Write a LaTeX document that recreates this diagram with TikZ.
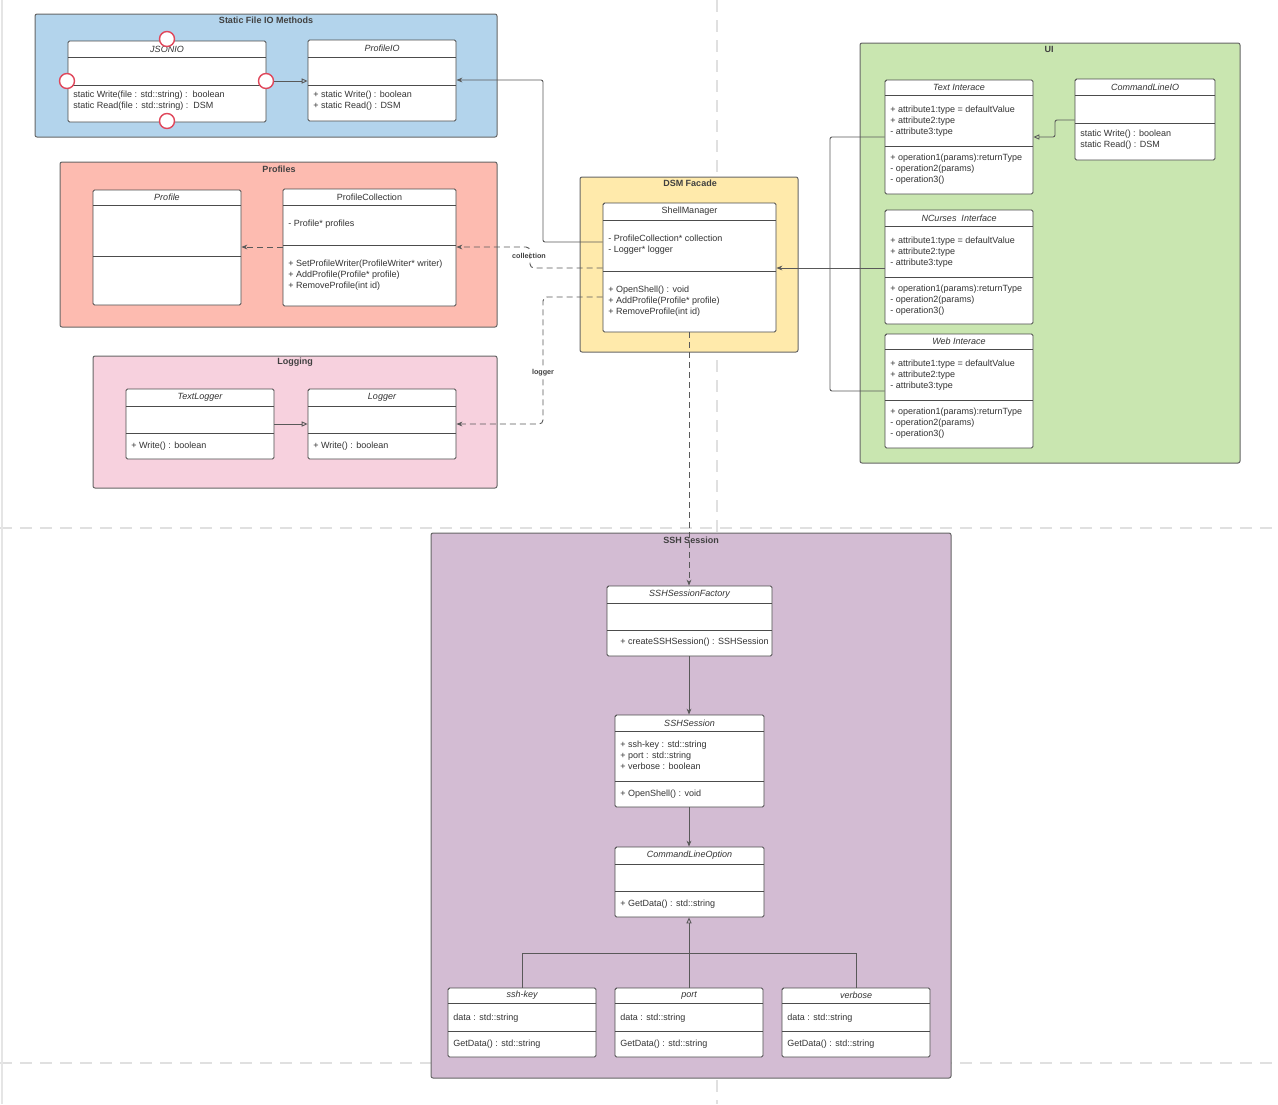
\documentclass[tikz,border=0pt]{standalone}
\usepackage{fontspec}
\setmainfont{Liberation Sans}
\usetikzlibrary{arrows.meta,fit}
\tikzset{
  txt/.style={font=\fontsize{4.5}{5.5}\selectfont,text=black!80,inner sep=0pt,align=left,anchor=north west},
  ttl/.style={font=\fontsize{4.5}{5.5}\selectfont,text=black!80,inner sep=0pt},
  ctitle/.style={font=\bfseries\fontsize{4.5}{5.5}\selectfont,text=black!75,inner sep=0pt},
  cont/.style={draw=black!60,line width=0.5pt,rounded corners=1pt},
  conn/.style={draw=black!65,line width=0.45pt},
  dconn/.style={conn,dash pattern=on 3pt off 2pt},
  fa/.style={-{Stealth[length=3pt,width=2.4pt]}},
  oa/.style={-{Triangle[open,length=3pt,width=2.6pt]}},
  bg/.style={draw=black!12,line width=1.3pt,dash pattern=on 6pt off 4pt},
}
\newcommand\cls[8]{%
  \draw[black!70,fill=white,line width=0.45pt,rounded corners=0.8pt] (#2,#3) rectangle (#4,#5);
  \draw[black!70,line width=0.45pt] (#2,#6) -- (#4,#6) (#2,#7) -- (#4,#7);
  \node[inner sep=0pt,fit={(#2,#3)(#4,#5)}] (#1) {};
  \node[ttl] at ({(#2+#4)/2},{(#3+#6)/2}) {#8};}
\newcommand\tl[3]{\node[txt] at (#1,#2) {#3};}
\begin{document}
\begin{tikzpicture}[x=0.5pt,y=-0.5pt]
\useasboundingbox (0,0) rectangle (1278,1104);
\fill[white] (0,0) rectangle (1278,1104);
% background guides
\draw[bg] (717,0) -- (717,1104);
\draw[bg] (0,528) -- (1278,528);
\draw[bg] (0,1063) -- (1278,1063);
\draw[black!10,line width=1pt] (2,0) -- (2,1104);
% containers
\draw[cont,fill={rgb,255:red,179;green,212;blue,236}] (35,14) rectangle (497,137);
\node[ctitle] at (266,20) {Static File IO Methods};
\draw[cont,fill={rgb,255:red,253;green,187;blue,176}] (60,162) rectangle (497,327);
\node[ctitle] at (279,169) {Profiles};
\draw[cont,fill={rgb,255:red,247;green,209;blue,222}] (93,356) rectangle (497,488);
\node[ctitle] at (295,362) {Logging};
\draw[cont,fill={rgb,255:red,255;green,234;blue,171}] (580,177) rectangle (798,352);
\node[ctitle] at (690,183) {DSM Facade};
\draw[cont,fill={rgb,255:red,201;green,230;blue,176}] (860,43) rectangle (1240,463);
\node[ctitle] at (1049,49) {UI};
\draw[cont,fill={rgb,255:red,211;green,188;blue,211}] (431,533) rectangle (951,1078);
\node[ctitle] at (691,540) {SSH Session};
% classes
\cls{jsonio}{68}{41}{266}{122}{57}{85}{\itshape JSONIO}
\tl{73}{91}{static Write(file : std::string) :\ \ boolean\\static Read(file : std::string) :\ \ DSM}
\cls{profileio}{308}{40}{456}{121}{57}{85}{\itshape ProfileIO}
\tl{313}{91}{+ static Write() : boolean\\+ static Read() : DSM}
\cls{profile}{93}{190}{241}{305}{205}{256}{\itshape Profile}
\cls{pcoll}{283}{189}{456}{306}{205}{245}{ProfileCollection}
\tl{288}{220}{- Profile* profiles}
\tl{288}{260}{+ SetProfileWriter(ProfileWriter* writer)\\+ AddProfile(Profile* profile)\\+ RemoveProfile(int id)}
\cls{textlogger}{126}{389}{274}{459}{406}{433}{\itshape TextLogger}
\tl{131}{442}{+ Write() : boolean}
\cls{logger}{308}{389}{456}{459}{406}{433}{\itshape Logger}
\tl{313}{442}{+ Write() : boolean}
\cls{shell}{603}{203}{776}{332}{220}{271}{ShellManager}
\tl{608}{235}{- ProfileCollection* collection\\- Logger* logger}
\tl{608}{286}{+ OpenShell() : void\\+ AddProfile(Profile* profile)\\+ RemoveProfile(int id)}
\cls{textui}{885}{80}{1033}{194}{95}{146}{\itshape Text Interace}
\tl{890}{106}{+ attribute1:type = defaultValue\\+ attribute2:type\\- attribute3:type}
\tl{890}{154}{+ operation1(params):returnType\\- operation2(params)\\- operation3()}
\cls{cli}{1075}{79}{1215}{160}{95}{123}{\itshape CommandLineIO}
\tl{1080}{130}{static Write() : boolean\\static Read() : DSM}
\cls{ncurses}{885}{210}{1033}{324}{226}{277}{\itshape NCurses\ \ Interface}
\tl{890}{237}{+ attribute1:type = defaultValue\\+ attribute2:type\\- attribute3:type}
\tl{890}{285}{+ operation1(params):returnType\\- operation2(params)\\- operation3()}
\cls{webui}{885}{334}{1033}{448}{349}{400}{\itshape Web Interace}
\tl{890}{360}{+ attribute1:type = defaultValue\\+ attribute2:type\\- attribute3:type}
\tl{890}{408}{+ operation1(params):returnType\\- operation2(params)\\- operation3()}
\cls{factory}{607}{586}{772}{656}{603}{630}{\itshape SSHSessionFactory}
\tl{620}{638}{+ createSSHSession() : SSHSession}
\cls{session}{615}{715}{764}{807}{731}{781}{\itshape SSHSession}
\tl{620}{741}{+ ssh-key : std::string\\+ port : std::string\\+ verbose : boolean}
\tl{620}{790}{+ OpenShell() : void}
\cls{clo}{615}{847}{764}{917}{864}{891}{\itshape CommandLineOption}
\tl{620}{900}{+ GetData() : std::string}
\cls{sshkey}{448}{988}{596}{1057}{1003}{1031}{\itshape ssh-key}
\tl{453}{1014}{data : std::string}
\tl{453}{1040}{GetData() : std::string}
\cls{port}{615}{988}{763}{1057}{1003}{1031}{\itshape port}
\tl{620}{1014}{data : std::string}
\tl{620}{1040}{GetData() : std::string}
\cls{verbose}{782}{988}{930}{1057}{1003}{1031}{\itshape verbose}
\tl{787}{1014}{data : std::string}
\tl{787}{1040}{GetData() : std::string}
% red ports on JSONIO
\foreach \p in {(167,39),(67,81),(266,81),(167,121)}
  \draw[draw={rgb,255:red,224;green,70;blue,90},fill=white,line width=0.7pt] \p circle (7.5);
% connectors
\coordinate (jr) at (274,81);
\draw[conn,oa] (jr) -- (jr -| profileio.west);
\draw[conn,fa,rounded corners=1pt] (shell.west |- 0,242) -- (543,242) -- (543,80) -- (profileio.east |- 0,80);
\draw[dconn,fa,rounded corners=2pt] (shell.west |- 0,268) -- (530,268) -- (530,247) -- (pcoll.east |- 0,247);
\node[ctitle,font=\bfseries\fontsize{3.6}{4}\selectfont] at (529,256) {collection};
\draw[dconn,fa] (pcoll.west |- 0,247) -- (profile.east |- 0,247);
\draw[dconn,fa,rounded corners=2pt] (shell.west |- 0,297) -- (543,297) -- (543,424) -- (logger.east |- 0,424);
\node[ctitle,font=\bfseries\fontsize{3.6}{4}\selectfont,fill=white,inner sep=0.5pt] at (543,373) {logger};
\draw[conn,oa] (textlogger.east |- 0,424) -- (logger.west |- 0,424);
\draw[conn,rounded corners=1pt] (textui.west |- 0,137) -- (830,137) -- (830,391) -- (webui.west |- 0,391);
\draw[conn,fa] (ncurses.west |- 0,268) -- (shell.east |- 0,268);
\draw[conn,oa,rounded corners=1pt] (cli.west |- 0,120) -- (1055,120) -- (1055,137) -- (textui.east |- 0,137);
\draw[dconn,fa] (shell.south -| 689,0) -- (factory.north -| 689,0);
\draw[conn,fa] (factory.south -| 689,0) -- (session.north -| 689,0);
\draw[conn,fa] (session.south -| 689,0) -- (clo.north -| 689,0);
\draw[conn] (sshkey.north) -- (522,953) -- (856,953) -- (verbose.north);
\draw[conn] (port.north -| 689,0) -- (689,953);
\draw[conn,oa] (689,953) -- (clo.south -| 689,0);
\end{tikzpicture}
\end{document}
